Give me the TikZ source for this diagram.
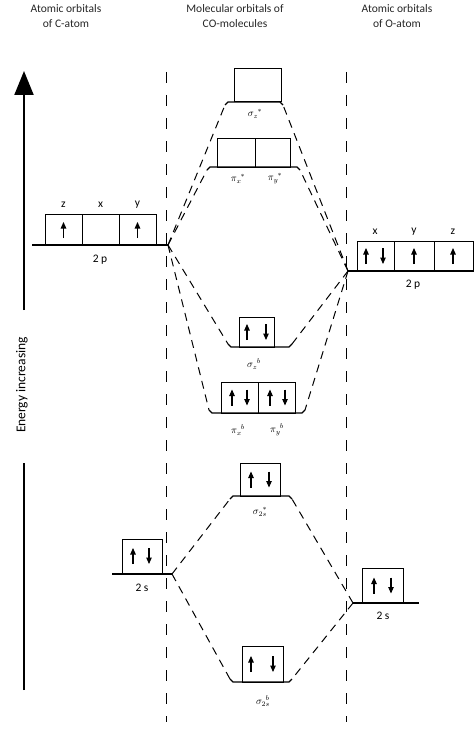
\documentclass[tikz,border=0pt]{standalone}
\usepackage{fontspec}
\setmainfont{Carlito}
\usetikzlibrary{arrows.meta}
\newcommand\eup[2]{\draw[el] (#1,#2+8) -- (#1,#2-8);}
\newcommand\edn[2]{\draw[el] (#1,#2-8) -- (#1,#2+8);}
\begin{document}
\begin{tikzpicture}[x=1pt,y=-1pt,
  obox/.style={draw, line width=1pt},
  lvl/.style={line width=1.3pt, line join=round},
  conn/.style={dash pattern=on 8pt off 6pt, line width=1pt},
  sep/.style={dash pattern=on 11pt off 12pt, line width=1pt},
  el/.style={line width=1.1pt, -{Triangle[length=6.5pt,width=5.5pt]}},
  lab/.style={font=\fontsize{11.5}{13}\selectfont, inner sep=0pt},
  mlab/.style={font=\fontsize{10}{12}\selectfont, inner sep=0pt},
  head/.style={font=\fontsize{11.5}{15}\selectfont, align=center, inner sep=0pt, text=black!85},
]
\useasboundingbox (0,0) rectangle (474,733);

% headers
\node[head] (hC) at (66,16) {Atomic orbitals\\of C-atom};
\node[head] (hM) at (235,16) {Molecular orbitals of\\CO-molecules};
\node[head] (hO) at (397,16) {Atomic orbitals\\of O-atom};

% energy axis
\coordinate (ax1) at (24,310);
\coordinate (ax2) at (24,71);
\coordinate (ax3) at (24,690);
\coordinate (ax4) at (24,463);
\draw[line width=2pt, -{Triangle[length=24pt,width=19pt]}] (ax1) -- (ax2);
\draw[line width=2pt] (ax3) -- (ax4);
\node[lab, rotate=90, font=\fontsize{13.5}{14}\selectfont] (en) at (22,385) {Energy increasing};

% separators
\coordinate (s1a) at (166,72); \coordinate (s1b) at (166,722);
\coordinate (s2a) at (346,72); \coordinate (s2b) at (346,722);
\draw[sep] (s1a) -- (s1b);
\draw[sep] (s2a) -- (s2b);

% ---- C 2p
\draw[obox] (45,214) rectangle (82,245);
\draw[obox] (82,214) rectangle (119,245);
\draw[obox] (119,214) rectangle (156,245);
\draw[lvl] (32,245) -- (168,245);
\coordinate (c2p) at (168,245);
\node[lab] (c2pz) at (63.5,205) {z};
\node[lab] (c2px) at (100.5,205) {x};
\node[lab] (c2py) at (137.5,205) {y};
\node[lab] (c2pl) at (100,260) {2 p};
\eup{63.5}{230}
\eup{137.5}{230}

% ---- O 2p
\draw[obox] (357,241) rectangle (394,271);
\draw[obox] (394,241) rectangle (434,271);
\draw[obox] (434,241) rectangle (473,271);
\draw[lvl] (348,271) -- (474,271);
\coordinate (o2p) at (348,271);
\node[lab] (o2px) at (375,232) {x};
\node[lab] (o2py) at (414,232) {y};
\node[lab] (o2pz) at (453,232) {z};
\node[lab] (o2pl) at (413,285) {2 p};
\eup{366}{256} \edn{383}{256}
\eup{414}{256}
\eup{453}{256}

% ---- sigma_z*
\draw[obox] (234,69) rectangle (281,102);
\draw[lvl] (225,105) -- (228,102) -- (280,102) -- (283,105);
\coordinate (szaL) at (225,105); \coordinate (szaR) at (283,105);
\node[mlab] (szal) at (255,114) {$\sigma_{z}^{\;\,*}$};

% ---- pi*
\draw[obox] (217,138) rectangle (255,167);
\draw[obox] (255,138) rectangle (290,167);
\draw[lvl] (207,170) -- (210,167) -- (297,167) -- (300,170);
\coordinate (paL) at (207,170); \coordinate (paR) at (300,170);
\node[mlab] (pxal) at (238,179) {$\pi_{x}^{\;\,*}$};
\node[mlab] (pyal) at (275,179) {$\pi_{y}^{\;\,*}$};

% ---- sigma_z b
\draw[obox] (239,317) rectangle (274,347);
\draw[lvl] (228,344) -- (231,347) -- (289,347) -- (292,344);
\coordinate (szbL) at (228,344); \coordinate (szbR) at (292,344);
\node[mlab] (szbl) at (254,364) {$\sigma_{z}^{\;\,b}$};
\eup{247}{332} \edn{266}{332}

% ---- pi b
\draw[obox] (221,382) rectangle (258,413);
\draw[obox] (258,382) rectangle (295,413);
\draw[lvl] (209,410) -- (212,413) -- (302,413) -- (305,410);
\coordinate (pbL) at (209,410); \coordinate (pbR) at (305,410);
\node[mlab] (pxbl) at (238,430) {$\pi_{x}^{\;\,b}$};
\node[mlab] (pybl) at (277,430) {$\pi_{y}^{\;\,b}$};
\eup{232}{397.5} \edn{247}{397.5}
\eup{270}{397.5} \edn{285}{397.5}

% ---- sigma_2s*
\draw[obox] (240,463) rectangle (280,496);
\draw[lvl] (230,499) -- (233,496) -- (289,496) -- (292,499);
\coordinate (ssaL) at (230,499); \coordinate (ssaR) at (292,499);
\node[mlab] (ssal) at (260,512) {$\sigma_{2s}^{\;\,*}$};
\eup{251}{479.5} \edn{269}{479.5}

% ---- C 2s
\draw[obox] (122,539) rectangle (162,573);
\draw[lvl] (112,574) -- (172,574);
\coordinate (c2s) at (172,574);
\node[lab] (c2sl) at (142,588) {2 s};
\eup{133}{556} \edn{149}{556}

% ---- O 2s
\draw[obox] (362,568) rectangle (403,603);
\draw[lvl] (353,603) -- (419,603);
\coordinate (o2s) at (353,603);
\node[lab] (o2sl) at (383,616) {2 s};
\eup{374}{585.5} \edn{391}{585.5}

% ---- sigma_2s b
\draw[obox] (242,646) rectangle (283,682);
\draw[lvl] (230,679) -- (233,682) -- (289,682) -- (292,679);
\coordinate (ssbL) at (230,679); \coordinate (ssbR) at (292,679);
\node[mlab] (ssbl) at (263,701) {$\sigma_{2s}^{\;\,b}$};
\eup{251}{664} \edn{273}{664}

% ---- connectors
\draw[conn] (c2p) -- (szaL);
\draw[conn] (c2p) -- (paL);
\draw[conn] (c2p) -- (szbL);
\draw[conn] (c2p) -- (pbL);
\draw[conn] (o2p) -- (szaR);
\draw[conn] (o2p) -- (paR);
\draw[conn] (o2p) -- (szbR);
\draw[conn] (o2p) -- (pbR);
\draw[conn] (c2s) -- (ssaL);
\draw[conn] (c2s) -- (ssbL);
\draw[conn] (o2s) -- (ssaR);
\draw[conn] (o2s) -- (ssbR);
\end{tikzpicture}
\end{document}
